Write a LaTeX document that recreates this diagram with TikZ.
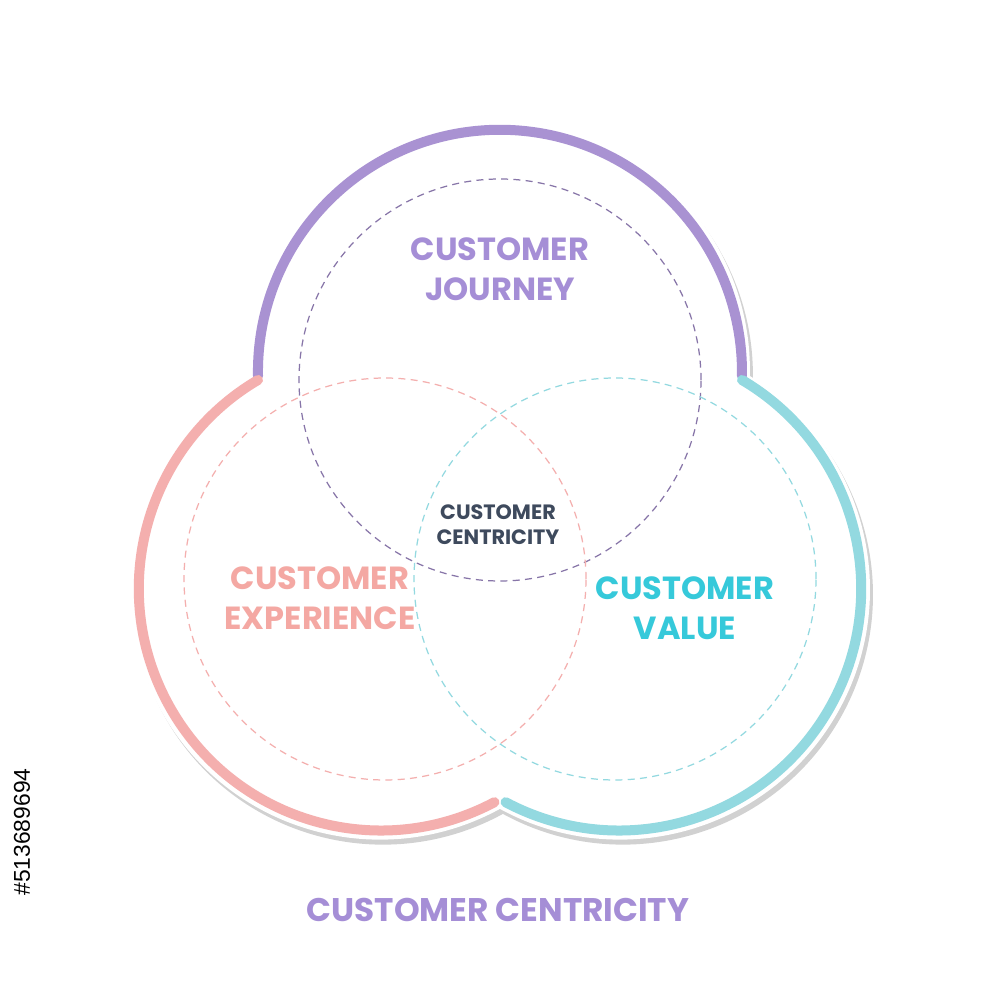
\documentclass[tikz,border=0pt]{standalone}
\usepackage{fontspec}
\setmainfont{Poppins}
\newfontfamily\idfont{Liberation Sans}
\definecolor{cpur}{HTML}{A992D2}
\definecolor{cpink}{HTML}{F4AFAE}
\definecolor{cteal}{HTML}{93D9E0}
\definecolor{tpur}{HTML}{A58ED6}
\definecolor{tpink}{HTML}{F4A8A3}
\definecolor{tteal}{HTML}{36C9DA}
\definecolor{tdark}{HTML}{3E4A5D}
\begin{document}
\begin{tikzpicture}[x=0.01cm,y=0.01cm,
  band/.style={line width=1mm,line cap=round},
  dcirc/.style={dashed,line width=0.35pt,dash pattern=on 2pt off 1.5pt},
  lbl/.style={font=\bfseries\fontsize{9.1}{11.3}\selectfont,align=center,inner sep=0pt}]
\useasboundingbox (0,0) rectangle (1000,1000);
\fill[white] (0,0) rectangle (1000,1000);
% shadow
\begin{scope}[shift={(3,-5)}]
\fill[black!18] (250,624) arc[start angle=181.4,end angle=-1.4,radius=250]
  arc[start angle=58.7,end angle=-118.7,radius=250]
  arc[start angle=298.7,end angle=121.3,radius=250] -- cycle;
\end{scope}
\fill[white] (250,624) arc[start angle=181.4,end angle=-1.4,radius=250]
  arc[start angle=58.7,end angle=-118.7,radius=250]
  arc[start angle=298.7,end angle=121.3,radius=250] -- cycle;
% coloured bands
\draw[band,cpur] (258,624) arc[start angle=181.0,end angle=-1.0,radius=242];
\draw[band,cpink] (258,620) arc[start angle=120.5,end angle=298,radius=242];
\draw[band,cteal] (742,620) arc[start angle=59.5,end angle=-118,radius=242];
% dashed circles
\draw[dcirc,cpur!80!black] (500,620) circle[radius=201];
\draw[dcirc,cpink] (385,421) circle[radius=201];
\draw[dcirc,cteal] (615,421) circle[radius=201];
% labels
\node[lbl,text=tpur] (journey) at (500,731) {CUSTOMER\\JOURNEY};
\node[lbl,text=tpink] (exp) at (320,402) {CUSTOMER\\EXPERIENCE};
\node[lbl,text=tteal] (val) at (685,392) {CUSTOMER\\VALUE};
\node[lbl,text=tdark,font=\bfseries\fontsize{5.9}{7.2}\selectfont] (center) at (498,475) {CUSTOMER\\CENTRICITY};
\node[lbl,text=tpur,font=\bfseries\fontsize{9.3}{11}\selectfont] (title) at (498,90) {CUSTOMER CENTRICITY};
\node[inner sep=0pt,rotate=90,font=\idfont\fontsize{6.5}{7}\selectfont] (id) at (22,168) {\#513689694};
\end{tikzpicture}
\end{document}
